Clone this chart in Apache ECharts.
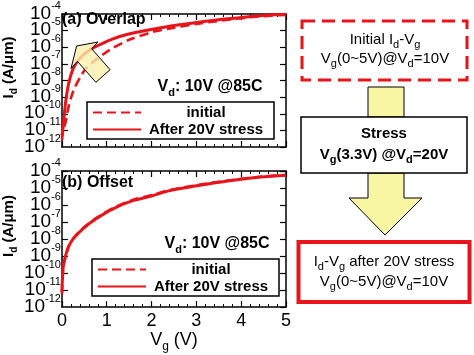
<!DOCTYPE html>
<html><head><meta charset="utf-8">
<script src="https://cdn.jsdelivr.net/npm/echarts@6/dist/echarts.min.js"></script>
<style>html,body{margin:0;padding:0;background:#fff}#c{width:474px;height:355px}</style>
</head><body><div id="c"></div>
<script>
// ---- data ----
const vgTicks = [0, 1, 2, 3, 4, 5];
const idTickExponents = [-12, -11, -10, -9, -8, -7, -6, -5, -4];
const seriesNames = ['initial', 'After 20V stress'];
// (a) Overlap : [Vg (V), Id (A/um)]
const overlapInitial = [[0,2.5e-12],[0.03,1e-11],[0.08,3e-11],[0.15,2.8e-10],[0.26,2.6e-9],[0.41,1.6e-8],[0.55,6e-8],[0.77,1.86e-7],[1.07,7.1e-7],[1.5,2.8e-6],[2.02,8.3e-6],[2.38,1.3e-5],[3.0,2.5e-5],[3.7,4.5e-5],[4.4,7.1e-5],[5,8.9e-5]];
const overlapStress = [[0,5e-12],[0.03,1.9e-11],[0.08,4.4e-10],[0.15,6.5e-9],[0.26,6e-8],[0.41,2.3e-7],[0.63,7.2e-7],[0.92,1.8e-6],[1.29,4.4e-6],[1.73,8.5e-6],[2.31,1.66e-5],[2.97,2.95e-5],[3.7,5.1e-5],[4.43,7.9e-5],[5,9.5e-5]];
// (b) Offset
const offsetInitial = [[0,6e-12],[0.03,2.2e-10],[0.08,9e-10],[0.15,3.6e-9],[0.26,1.15e-8],[0.48,4.6e-8],[0.77,1.75e-7],[1.14,6.6e-7],[1.58,2e-6],[2.02,3.9e-6],[2.38,7.4e-6],[2.97,1.4e-5],[3.7,2.75e-5],[4.43,4.6e-5],[5,5.8e-5]];
const offsetStress = [[0,7.8e-12],[0.03,2.7e-10],[0.08,1e-9],[0.15,3.7e-9],[0.26,1.1e-8],[0.48,4.3e-8],[0.77,1.6e-7],[1.14,6e-7],[1.58,1.8e-6],[2.02,3.5e-6],[2.38,6.8e-6],[2.97,1.3e-5],[3.7,2.6e-5],[4.43,4.4e-5],[5,5.6e-5]];

// ---- chart ----
const FF = 'Liberation Sans, Arial, sans-serif';
const RED = '#e8141c';
const YEL = '#f8f6a2';
const chart = echarts.init(document.getElementById('c'), null, {renderer: 'canvas'});

const minExp = idTickExponents[0];
const yMin = Math.pow(10, minExp);
const yMax = Math.pow(10, idTickExponents[idTickExponents.length - 1]);

const labelRich = {
  b: {fontFamily: FF, fontSize: 19, color: '#000', lineHeight: 18, verticalAlign: 'bottom'},
  s: {fontFamily: FF, fontSize: 11, color: '#000', lineHeight: 11, padding: [0, 0, 12, 0], verticalAlign: 'bottom'}
};
const expLabel = v => '{b|10}{s|' + Math.round(Math.log10(v)) + '}';

function xAxisCfg(grid, pos, labels) {
  return {
    type: 'value', gridIndex: grid, position: pos, min: vgTicks[0], max: vgTicks[vgTicks.length - 1], interval: 1,
    axisLine: {show: true, onZero: false, lineStyle: {color: '#000', width: 1.5}},
    axisTick: {show: true, inside: true, length: 6, lineStyle: {color: '#000', width: 1.2}},
    minorTick: {show: true, splitNumber: 5, length: 3, lineStyle: {color: '#000', width: 1}},
    splitLine: {show: false}, minorSplitLine: {show: false},
    axisLabel: {show: labels, fontFamily: FF, fontSize: 18, color: '#000', margin: 5},
    name: labels ? '{a|V}{g|g}{a| (V)}' : '', nameLocation: 'middle', nameGap: 12,
    nameTextStyle: {rich: {
      a: {fontFamily: FF, fontSize: 18, color: '#000', lineHeight: 20, padding: [0, 0, 5, 0]},
      g: {fontFamily: FF, fontSize: 12, color: '#000', lineHeight: 12, verticalAlign: 'bottom'}
    }}
  };
}
function yAxisCfg(grid, pos, labels) {
  return {
    type: 'log', logBase: 10, gridIndex: grid, position: pos, min: yMin, max: yMax, interval: 1,
    axisLine: {show: true, onZero: false, lineStyle: {color: '#000', width: 1.5}},
    axisTick: {show: true, inside: true, length: 6, lineStyle: {color: '#000', width: 1.2}},
    splitLine: {show: false},
    axisLabel: {show: labels, margin: 1, showMinLabel: false, showMaxLabel: true, formatter: expLabel, rich: labelRich},
    name: labels ? '{i|I}{d|d}{i| (A/μm)}' : '', nameLocation: 'middle', nameRotate: 90, nameGap: 40,
    nameTextStyle: {padding: [0, 0, 0, 26], rich: {
      i: {fontFamily: FF, fontSize: 15, fontWeight: 'bold', color: '#000', lineHeight: 17, padding: [0, 0, 4, 0]},
      d: {fontFamily: FF, fontSize: 10, fontWeight: 'bold', color: '#000', lineHeight: 10, verticalAlign: 'bottom'}
    }}
  };
}
// companion axis that only carries the lowest decade label (avoids label-overlap culling)
function yMinLabelAxis(grid) {
  return {
    type: 'log', logBase: 10, gridIndex: grid, position: 'left', min: yMin, max: yMax, interval: 4,
    axisLine: {show: false}, axisTick: {show: false}, splitLine: {show: false},
    axisLabel: {show: true, margin: 1, showMinLabel: true, showMaxLabel: false,
      formatter: v => Math.round(Math.log10(v)) === minExp ? expLabel(v) : '', rich: labelRich}
  };
}
function lineSeries(name, data, xi, yi, dashed) {
  return {
    name, type: 'line', xAxisIndex: xi, yAxisIndex: yi, data, smooth: 0.3, symbol: 'none',
    lineStyle: {color: RED, width: dashed ? 2.6 : 3, type: dashed ? [9, 5] : 'solid'},
    itemStyle: {color: RED}, z: 3
  };
}
function legendCfg(left, top) {
  return {
    left, top, orient: 'vertical', data: seriesNames, itemWidth: 48, itemHeight: 14, itemGap: 2,
    padding: [3, 8, 2, 5], borderColor: '#000', borderWidth: 1.5, backgroundColor: '#fff', selectedMode: false,
    itemStyle: {opacity: 0},
    formatter: n => '{c|' + n + '}',
    textStyle: {rich: {c: {fontFamily: FF, fontSize: 15, fontWeight: 'bold', color: '#000', width: 120, align: 'center', lineHeight: 16}}}
  };
}
function subText(x, y, parts, size, bold) {
  const w = bold ? 'bold' : 'normal';
  return {
    type: 'text', x, y, z: 50,
    style: {
      text: parts.map(p => '{' + (p[1] ? 's' : 'n') + '|' + p[0] + '}').join(''),
      align: 'center', verticalAlign: 'middle', fill: '#000',
      rich: {
        n: {fontFamily: FF, fontSize: size, fontWeight: w, fill: '#000', lineHeight: size + 2, padding: [0, 0, 4, 0]},
        s: {fontFamily: FF, fontSize: Math.round(size * 0.7), fontWeight: w, fill: '#000', lineHeight: Math.round(size * 0.7), verticalAlign: 'bottom'}
      }
    }
  };
}

const option = {
  backgroundColor: '#fff',
  animation: false,
  grid: [
    {left: 58, top: 10, width: 228, height: 137, show: false},
    {left: 58, top: 171, width: 228, height: 139.5, show: false}
  ],
  xAxis: [xAxisCfg(0, 'bottom', false), xAxisCfg(0, 'top', false), xAxisCfg(1, 'bottom', true), xAxisCfg(1, 'top', false)],
  yAxis: [yAxisCfg(0, 'left', true), yAxisCfg(0, 'right', false), yAxisCfg(1, 'left', true), yAxisCfg(1, 'right', false),
          yMinLabelAxis(0), yMinLabelAxis(1)],
  legend: [legendCfg(87, 102), legendCfg(92, 259)],
  series: [
    lineSeries(seriesNames[0], overlapInitial, 0, 0, true),
    lineSeries(seriesNames[1], overlapStress, 0, 0, false),
    lineSeries(seriesNames[0], offsetInitial, 2, 2, true),
    lineSeries(seriesNames[1], offsetStress, 2, 2, false)
  ],
  graphic: [
    {type: 'text', left: 62, top: 12, z: 50, style: {text: '(a) Overlap', font: 'bold 16px ' + FF, fill: '#000'}},
    {type: 'text', left: 62, top: 175, z: 50, style: {text: '(b) Offset', font: 'bold 16px ' + FF, fill: '#000'}},
    subText(210, 89, [['V'], ['d', 1], [': 10V @85C']], 16, true),
    subText(217, 246, [['V'], ['d', 1], [': 10V @85C']], 16, true),
    // annotation arrow in (a)
    {type: 'polygon', z: 60, shape: {points: [[76.6, 46], [71, 68.5], [77.4, 61.3], [95.9, 82.3], [110.1, 69.7], [91.6, 48.7], [98, 42]]},
      style: {fill: 'rgba(250,240,170,0.8)', stroke: '#000', lineWidth: 1}},
    // flow diagram
    {type: 'rect', z: 40, shape: {x: 302, y: 21, width: 165, height: 59}, style: {fill: '#fff', stroke: RED, lineWidth: 3, lineDash: [13, 7]}},
    subText(385, 42, [['Initial I'], ['d', 1], ['-V'], ['g', 1]], 15, false),
    subText(385, 61, [['V'], ['g', 1], ['(0~5V)@V'], ['d', 1], ['=10V']], 15, false),
    {type: 'rect', z: 40, shape: {x: 368, y: 87, width: 36, height: 30}, style: {fill: YEL, stroke: '#000', lineWidth: 1}},
    {type: 'rect', z: 41, shape: {x: 301, y: 117, width: 166, height: 56}, style: {fill: '#fff', stroke: '#000', lineWidth: 1.5}},
    subText(384, 136, [['Stress']], 15, true),
    subText(384, 157, [['V'], ['g', 1], ['(3.3V) @V'], ['d', 1], ['=20V']], 15, true),
    {type: 'polygon', z: 40, shape: {points: [[368, 173], [404, 173], [404, 198], [422, 198], [385, 235], [349, 198], [368, 198]]},
      style: {fill: YEL, stroke: '#000', lineWidth: 1}},
    {type: 'rect', z: 40, shape: {x: 298.5, y: 242, width: 171, height: 60}, style: {fill: '#fff', stroke: RED, lineWidth: 4}},
    subText(384, 264, [['I'], ['d', 1], ['-V'], ['g', 1], [' after 20V stress']], 15, false),
    subText(384, 284, [['V'], ['g', 1], ['(0~5V)@V'], ['d', 1], ['=10V']], 15, false)
  ]
};
chart.setOption(option);
</script>
</body></html>
